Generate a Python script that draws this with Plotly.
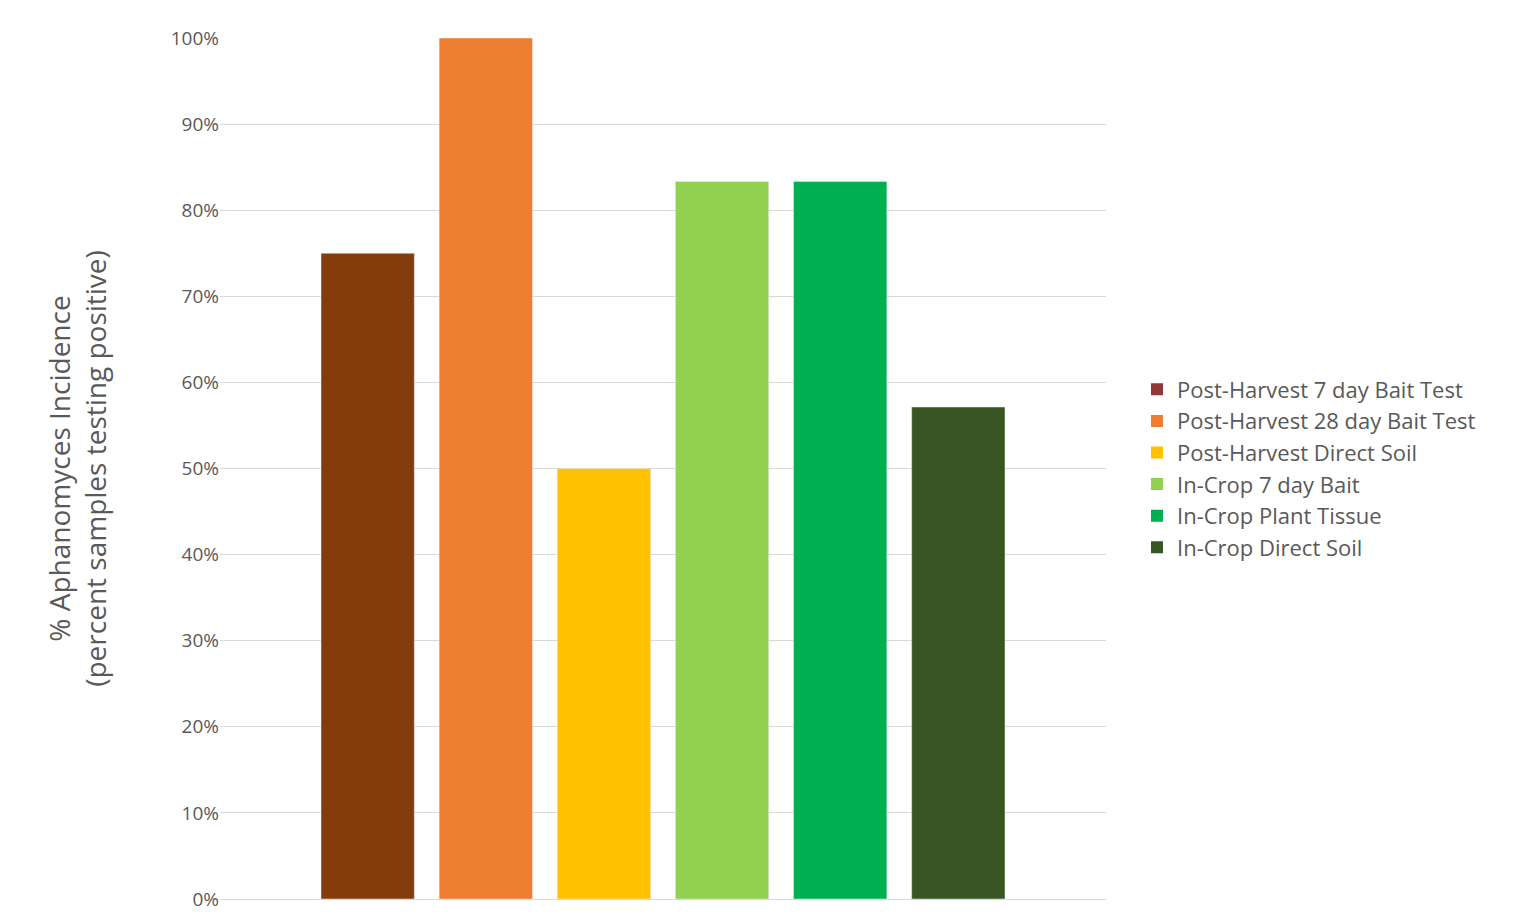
import plotly.graph_objects as go

series = ["Post-Harvest 7 day Bait Test", "Post-Harvest 28 day Bait Test", "Post-Harvest Direct Soil",
          "In-Crop 7 day Bait", "In-Crop Plant Tissue", "In-Crop Direct Soil"]
values = [0.75, 1.0, 0.50, 0.8333, 0.8333, 0.5714]
bar_colors = ["#843C0C", "#ED7D31", "#FFC000", "#92D050", "#00B050", "#375623"]
legend_colors = ["#943634", "#ED7D31", "#FFC000", "#92D050", "#00B050", "#375623"]
category = [""]

fig = go.Figure()
for s, v, c in zip(series, values, bar_colors):
    fig.add_bar(x=category, y=[v], marker_color=c, showlegend=False, name=s)
for i, (s, c) in enumerate(zip(series, legend_colors)):
    fig.add_scatter(x=[None], y=[None], mode="markers", name=s, legendgroup=str(i),
                    marker=dict(symbol="square", size=14, color=c))

fig.update_layout(
    width=1536, height=922, barmode="group", bargap=0.2, bargroupgap=0.21,
    paper_bgcolor="white", plot_bgcolor="white",
    margin=dict(l=212, r=438, t=30, b=31),
    font=dict(family="Open Sans, Liberation Sans, sans-serif", color="#595959"),
    yaxis=dict(range=[0, 1], dtick=0.1, tickformat=".0%", gridcolor="#D9D9D9",
               tickfont=dict(size=19, color="#595959"), ticks="", zeroline=False,
               title=dict(text="% Aphanomyces Incidence<br>(percent samples testing positive)",
                          font=dict(size=28, color="#595959"), standoff=55)),
    xaxis=dict(showline=True, linecolor="#D9D9D9", showticklabels=False),
    legend=dict(x=1.035, y=0.5, yanchor="middle", xanchor="left", traceorder="normal",
                font=dict(size=22, color="#595959"), itemsizing="constant", tracegroupgap=19),
)
fig.write_html("out.html")
